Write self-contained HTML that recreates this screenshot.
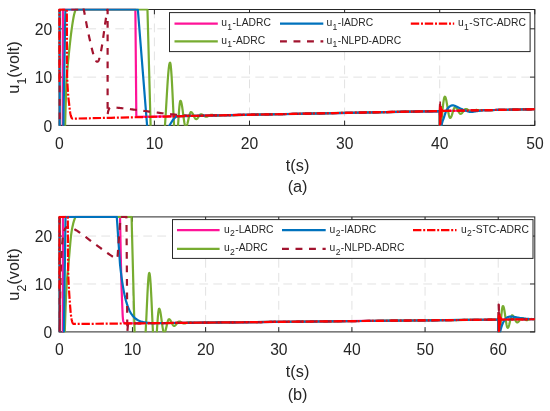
<!DOCTYPE html>
<html><head><meta charset="utf-8"><title>Control signals</title>
<style>html,body{margin:0;padding:0;background:#fff}svg{display:block}</style></head>
<body>
<svg width="550" height="411" viewBox="0 0 550 411" font-family='"Liberation Sans", Arial, Helvetica, sans-serif' font-size="15.7px" fill="#262626">
<rect width="550" height="411" fill="#fff"/>
<clipPath id="ca"><rect x="58.30" y="8.40" width="477.50" height="117.40"/></clipPath>
<line x1="154.40" y1="9.50" x2="154.40" y2="125.40" stroke="#000" stroke-opacity="0.17" stroke-width="0.7" stroke-dasharray="8.8 5.2"/>
<line x1="249.50" y1="9.50" x2="249.50" y2="125.40" stroke="#000" stroke-opacity="0.17" stroke-width="0.7" stroke-dasharray="8.8 5.2"/>
<line x1="344.60" y1="9.50" x2="344.60" y2="125.40" stroke="#000" stroke-opacity="0.17" stroke-width="0.7" stroke-dasharray="8.8 5.2"/>
<line x1="439.70" y1="9.50" x2="439.70" y2="125.40" stroke="#000" stroke-opacity="0.17" stroke-width="0.7" stroke-dasharray="8.8 5.2"/>
<line x1="59.30" y1="77.11" x2="534.80" y2="77.11" stroke="#000" stroke-opacity="0.17" stroke-width="0.7" stroke-dasharray="8.8 5.2"/>
<line x1="59.30" y1="28.82" x2="534.80" y2="28.82" stroke="#000" stroke-opacity="0.17" stroke-width="0.7" stroke-dasharray="8.8 5.2"/>
<rect x="59.30" y="9.50" width="475.50" height="115.90" fill="none" stroke="#262626" stroke-width="1"/>
<path d="M59.30 125.40v-4.80M59.30 9.50v4.80" stroke="#262626" stroke-width="1" fill="none"/>
<path d="M154.40 125.40v-4.80M154.40 9.50v4.80" stroke="#262626" stroke-width="1" fill="none"/>
<path d="M249.50 125.40v-4.80M249.50 9.50v4.80" stroke="#262626" stroke-width="1" fill="none"/>
<path d="M344.60 125.40v-4.80M344.60 9.50v4.80" stroke="#262626" stroke-width="1" fill="none"/>
<path d="M439.70 125.40v-4.80M439.70 9.50v4.80" stroke="#262626" stroke-width="1" fill="none"/>
<path d="M534.80 125.40v-4.80M534.80 9.50v4.80" stroke="#262626" stroke-width="1" fill="none"/>
<path d="M59.30 125.40h4.80M534.80 125.40h-4.80" stroke="#262626" stroke-width="1" fill="none"/>
<path d="M59.30 77.11h4.80M534.80 77.11h-4.80" stroke="#262626" stroke-width="1" fill="none"/>
<path d="M59.30 28.82h4.80M534.80 28.82h-4.80" stroke="#262626" stroke-width="1" fill="none"/>
<g clip-path="url(#ca)">
<path d="M59.59 9.50L59.59 139.89L62.72 139.89L62.91 9.50L135.38 9.50L136.33 116.47L136.81 116.90L151.95 116.61L167.10 116.32L182.24 116.03L197.39 115.73L212.53 115.44L227.67 115.15L242.82 114.86L257.96 114.56L273.11 114.27L288.25 113.98L303.40 113.69L318.54 113.40L333.69 113.10L348.83 112.81L363.98 112.52L379.12 112.23L394.27 111.93L409.41 111.64L424.56 111.35L439.70 111.06L439.70 114.78L440.46 109.46L441.60 111.02L442.55 111.00L447.17 110.91L451.78 110.82L456.39 110.74L461.00 110.65L465.61 110.56L470.23 110.47L474.84 110.38L479.45 110.29L484.06 110.20L488.68 110.11L493.29 110.02L497.90 109.93L502.51 109.85L507.13 109.76L511.74 109.67L516.35 109.58L520.96 109.49L525.58 109.40L530.19 109.31L534.80 109.22" fill="none" stroke="#FF1398" stroke-width="2.2" stroke-linejoin="round"/>
<path d="M59.59 9.50L59.59 139.89L64.82 139.89L64.83 139.23L64.84 138.48L64.85 137.62L64.87 136.67L64.89 135.61L64.90 134.45L64.93 133.20L64.95 131.84L64.98 130.38L65.02 128.82L65.06 127.16L65.10 125.40L65.15 123.46L65.21 121.29L65.28 118.93L65.35 116.42L65.43 113.82L65.51 111.15L65.58 108.48L65.66 105.83L65.74 103.26L65.82 100.81L65.89 98.51L65.96 96.42L66.02 94.53L66.06 92.78L66.11 91.15L66.15 89.61L66.19 88.15L66.22 86.74L66.27 85.35L66.32 83.98L66.37 82.58L66.44 81.15L66.52 79.65L66.62 78.07L66.74 76.44L66.86 74.79L67.00 73.12L67.14 71.44L67.29 69.74L67.45 68.02L67.62 66.29L67.80 64.53L67.97 62.76L68.15 60.97L68.34 59.15L68.52 57.31L68.72 55.42L68.92 53.45L69.12 51.43L69.33 49.37L69.55 47.29L69.77 45.21L70.00 43.14L70.22 41.10L70.44 39.12L70.66 37.20L70.88 35.37L71.09 33.65L71.30 32.00L71.52 30.39L71.73 28.83L71.94 27.31L72.15 25.85L72.36 24.44L72.57 23.08L72.78 21.79L72.98 20.55L73.18 19.38L73.38 18.27L73.56 17.23L73.75 16.25L73.95 15.35L74.14 14.50L74.34 13.72L74.53 13.00L74.72 12.34L74.90 11.73L75.06 11.18L75.21 10.68L75.35 10.24L75.47 9.85L75.56 9.50L147.46 9.50L150.60 125.40L151.07 139.89L162.96 139.89L163.25 139.56L163.55 138.57L163.84 136.95L164.13 134.71L164.43 131.90L164.72 128.57L165.01 124.77L165.30 120.57L165.60 116.04L165.89 111.25L166.18 106.30L166.48 101.25L166.77 96.21L167.06 91.26L167.36 86.47L167.65 81.94L167.94 77.74L168.24 73.94L168.53 70.60L168.82 67.80L169.12 65.56L169.41 63.94L169.70 62.95L170.00 62.62L170.25 62.97L170.50 64.02L170.75 65.75L170.99 68.12L171.24 71.10L171.49 74.64L171.74 78.68L171.99 83.14L172.24 87.96L172.49 93.04L172.74 98.31L172.99 103.67L173.24 109.03L173.49 114.29L173.74 119.38L173.99 124.19L174.24 128.66L174.49 132.69L174.74 136.23L174.99 139.22L175.24 139.89L175.49 139.89L175.74 139.89L175.99 139.89L176.17 139.89L176.36 139.89L176.55 139.89L176.73 139.89L176.92 139.89L177.11 138.28L177.29 136.12L177.48 133.73L177.66 131.15L177.85 128.43L178.04 125.61L178.22 122.74L178.41 119.88L178.60 117.06L178.78 114.34L178.97 111.76L179.15 109.37L179.34 107.21L179.53 105.31L179.71 103.72L179.90 102.44L180.08 101.52L180.27 100.96L180.46 100.77L180.68 100.88L180.90 101.22L181.12 101.76L181.34 102.52L181.57 103.47L181.79 104.59L182.01 105.87L182.23 107.29L182.45 108.82L182.68 110.44L182.90 112.11L183.12 113.81L183.34 115.51L183.56 117.18L183.79 118.80L184.01 120.33L184.23 121.75L184.45 123.03L184.67 124.15L184.90 125.10L185.12 125.86L185.34 126.40L185.56 126.74L185.78 126.85L186.00 126.79L186.22 126.60L186.44 126.29L186.65 125.86L186.87 125.33L187.09 124.69L187.31 123.97L187.53 123.17L187.74 122.30L187.96 121.39L188.18 120.45L188.40 119.48L188.62 118.52L188.83 117.58L189.05 116.67L189.27 115.80L189.49 115.00L189.71 114.28L189.92 113.64L190.14 113.11L190.36 112.68L190.58 112.37L190.80 112.18L191.01 112.12L191.23 112.15L191.45 112.24L191.67 112.39L191.89 112.59L192.10 112.84L192.32 113.15L192.54 113.49L192.76 113.87L192.97 114.28L193.19 114.71L193.41 115.16L193.63 115.62L193.85 116.08L194.06 116.53L194.28 116.96L194.50 117.37L194.72 117.75L194.94 118.10L195.15 118.40L195.37 118.65L195.59 118.86L195.81 119.00L196.03 119.09L196.24 119.12L196.44 119.10L196.64 119.04L196.84 118.94L197.04 118.80L197.23 118.62L197.43 118.41L197.63 118.18L197.83 117.91L198.03 117.63L198.23 117.33L198.42 117.02L198.62 116.71L198.82 116.39L199.02 116.08L199.22 115.78L199.41 115.50L199.61 115.24L199.81 115.00L200.01 114.79L200.21 114.62L200.40 114.48L200.60 114.38L200.80 114.31L201.00 114.29L201.22 114.30L201.43 114.33L201.65 114.38L201.87 114.45L202.09 114.54L202.31 114.65L202.52 114.77L202.74 114.90L202.96 115.04L203.18 115.19L203.40 115.34L203.61 115.50L203.83 115.66L204.05 115.81L204.27 115.96L204.49 116.10L204.70 116.24L204.92 116.35L205.14 116.46L205.36 116.55L205.58 116.62L205.79 116.67L206.01 116.70L206.23 116.71L206.45 116.70L206.67 116.67L206.88 116.63L207.10 116.58L207.32 116.51L207.54 116.42L207.76 116.33L207.97 116.22L208.19 116.11L208.41 115.99L208.63 115.87L208.84 115.74L209.06 115.62L209.28 115.49L209.50 115.37L209.72 115.26L209.93 115.15L210.15 115.06L210.37 114.98L210.59 114.91L210.81 114.85L211.02 114.81L211.24 114.78L211.46 114.78L211.68 114.78L211.90 114.79L212.11 114.81L212.33 114.84L212.55 114.88L212.77 114.92L212.99 114.96L213.20 115.02L213.42 115.07L213.64 115.13L213.86 115.20L214.08 115.26L214.29 115.32L214.51 115.38L214.73 115.44L214.95 115.50L215.16 115.55L215.38 115.60L215.60 115.64L215.82 115.68L216.04 115.70L216.25 115.73L216.47 115.74L216.69 115.74L216.91 115.74L217.13 115.73L217.34 115.72L217.56 115.71L217.78 115.69L218.00 115.67L218.22 115.65L218.43 115.62L218.65 115.59L218.87 115.56L219.09 115.53L219.31 115.50L219.52 115.47L219.74 115.44L219.96 115.41L220.18 115.38L220.40 115.35L220.61 115.33L220.83 115.31L221.05 115.29L221.27 115.28L221.49 115.27L221.70 115.26L221.92 115.26L222.87 115.24L233.71 115.03L244.55 114.82L255.40 114.61L266.24 114.40L277.08 114.20L287.92 113.99L298.76 113.78L309.60 113.57L320.44 113.36L331.29 113.15L342.13 112.94L352.97 112.73L363.81 112.52L374.65 112.31L385.49 112.10L396.33 111.89L407.18 111.68L418.02 111.48L428.86 111.27L439.70 111.06L439.70 139.89L438.75 139.89L439.00 139.70L439.26 139.15L439.51 138.24L439.76 136.99L440.02 135.42L440.27 133.56L440.52 131.43L440.78 129.08L441.03 126.55L441.28 123.87L441.54 121.10L441.79 118.28L442.05 115.46L442.30 112.68L442.55 110.01L442.81 107.47L443.06 105.12L443.31 103.00L443.57 101.13L443.82 99.56L444.07 98.31L444.33 97.40L444.58 96.85L444.84 96.67L445.06 96.76L445.28 97.03L445.50 97.48L445.72 98.09L445.94 98.86L446.17 99.78L446.39 100.82L446.61 101.98L446.83 103.22L447.05 104.54L447.28 105.90L447.50 107.29L447.72 108.68L447.94 110.04L448.16 111.36L448.39 112.60L448.61 113.76L448.83 114.80L449.05 115.72L449.27 116.49L449.50 117.11L449.72 117.55L449.94 117.82L450.16 117.91L450.37 117.87L450.58 117.73L450.79 117.50L451.00 117.19L451.21 116.79L451.42 116.32L451.63 115.79L451.84 115.20L452.05 114.56L452.26 113.89L452.47 113.19L452.68 112.48L452.89 111.77L453.10 111.08L453.31 110.40L453.52 109.77L453.73 109.17L453.94 108.64L454.15 108.17L454.36 107.78L454.57 107.46L454.78 107.23L454.99 107.10L455.20 107.05L455.43 107.08L455.65 107.16L455.88 107.31L456.10 107.50L456.33 107.75L456.56 108.04L456.78 108.37L457.01 108.74L457.23 109.14L457.46 109.55L457.69 109.99L457.91 110.43L458.14 110.87L458.36 111.30L458.59 111.72L458.82 112.12L459.04 112.49L459.27 112.82L459.49 113.11L459.72 113.36L459.94 113.55L460.17 113.69L460.40 113.78L460.62 113.81L460.84 113.79L461.06 113.73L461.28 113.63L461.49 113.49L461.71 113.31L461.93 113.10L462.15 112.87L462.37 112.60L462.58 112.32L462.80 112.02L463.02 111.71L463.24 111.40L463.46 111.08L463.67 110.77L463.89 110.47L464.11 110.19L464.33 109.93L464.54 109.69L464.76 109.48L464.98 109.30L465.20 109.16L465.42 109.06L465.63 109.00L465.85 108.98L466.07 108.99L466.29 109.02L466.51 109.07L466.72 109.14L466.94 109.23L467.16 109.33L467.38 109.45L467.60 109.58L467.81 109.73L468.03 109.88L468.25 110.03L468.47 110.19L468.69 110.35L468.90 110.50L469.12 110.65L469.34 110.79L469.56 110.92L469.78 111.04L469.99 111.15L470.21 111.23L470.43 111.30L470.65 111.35L470.87 111.39L471.08 111.40L471.30 111.39L471.52 111.37L471.74 111.34L471.95 111.30L472.17 111.25L472.39 111.18L472.61 111.11L472.83 111.03L473.04 110.95L473.26 110.86L473.48 110.77L473.70 110.67L473.92 110.58L474.13 110.48L474.35 110.39L474.57 110.31L474.79 110.23L475.01 110.16L475.22 110.10L475.44 110.04L475.66 110.00L475.88 109.97L476.10 109.95L476.31 109.95L476.53 109.95L476.75 109.95L476.97 109.97L477.19 109.98L477.40 110.00L477.62 110.02L477.84 110.04L478.06 110.07L478.27 110.10L478.49 110.13L478.71 110.16L478.93 110.19L479.15 110.22L479.36 110.25L479.58 110.28L479.80 110.31L480.02 110.34L480.24 110.36L480.45 110.38L480.67 110.40L480.89 110.41L481.11 110.42L481.33 110.43L481.54 110.43L482.49 110.23L485.11 110.18L487.73 110.13L490.34 110.08L492.96 110.03L495.57 109.98L498.19 109.93L500.80 109.88L503.42 109.83L506.03 109.78L508.65 109.73L511.26 109.68L513.88 109.63L516.49 109.58L519.11 109.53L521.72 109.47L524.34 109.42L526.95 109.37L529.57 109.32L532.18 109.27L534.80 109.22" fill="none" stroke="#77AC30" stroke-width="2.2" stroke-linejoin="round"/>
<path d="M59.59 9.50L59.59 139.89L63.10 139.89L65.39 9.50L137.85 9.50L147.08 125.40L148.22 139.89L159.15 136.02L160.11 136.02L160.86 135.94L161.61 135.68L162.36 135.27L163.12 134.69L163.87 133.96L164.62 133.10L165.38 132.12L166.13 131.04L166.88 129.87L167.63 128.63L168.39 127.35L169.14 126.05L169.89 124.75L170.65 123.47L171.40 122.24L172.15 121.07L172.90 119.98L173.66 119.00L174.41 118.14L175.16 117.42L175.92 116.84L176.67 116.42L177.42 116.17L178.17 116.08L179.13 116.09L192.15 115.83L205.18 115.58L218.21 115.33L231.24 115.08L244.27 114.83L257.30 114.58L270.33 114.33L283.36 114.07L296.38 113.82L309.41 113.57L322.44 113.32L335.47 113.07L348.50 112.82L361.53 112.57L374.56 112.31L387.59 112.06L400.61 111.81L413.64 111.56L426.67 111.31L439.70 111.06L439.70 139.89L440.65 139.89L440.65 139.89L440.69 139.16L440.74 138.23L440.79 137.12L440.85 135.87L440.92 134.52L440.99 133.11L441.07 131.67L441.16 130.24L441.26 128.87L441.36 127.57L441.48 126.41L441.60 125.40L441.74 124.53L441.89 123.76L442.05 123.05L442.22 122.41L442.40 121.81L442.58 121.26L442.77 120.72L442.97 120.20L443.17 119.67L443.38 119.13L443.58 118.57L443.79 117.96L444.00 117.32L444.21 116.65L444.43 115.97L444.65 115.28L444.87 114.59L445.10 113.90L445.34 113.22L445.57 112.57L445.81 111.94L446.05 111.34L446.30 110.79L446.55 110.28L446.80 109.82L447.06 109.39L447.32 109.00L447.59 108.63L447.86 108.28L448.13 107.97L448.40 107.67L448.68 107.40L448.95 107.14L449.23 106.90L449.51 106.68L449.78 106.47L450.05 106.27L450.32 106.10L450.58 105.94L450.84 105.80L451.11 105.67L451.37 105.57L451.64 105.49L451.92 105.42L452.20 105.38L452.49 105.35L452.79 105.34L453.11 105.36L453.43 105.40L453.76 105.47L454.10 105.56L454.44 105.68L454.79 105.81L455.14 105.97L455.51 106.13L455.88 106.31L456.27 106.49L456.66 106.68L457.07 106.86L457.48 107.05L457.91 107.24L458.36 107.45L458.81 107.67L459.27 107.90L459.75 108.13L460.23 108.37L460.72 108.62L461.22 108.86L461.73 109.09L462.24 109.32L462.76 109.55L463.28 109.75L463.82 109.96L464.37 110.17L464.93 110.39L465.50 110.61L466.07 110.82L466.65 111.03L467.24 111.22L467.82 111.40L468.41 111.56L468.99 111.70L469.56 111.80L470.13 111.88L470.69 111.92L471.25 111.93L471.81 111.90L472.37 111.86L472.92 111.79L473.47 111.71L474.02 111.62L474.58 111.52L475.13 111.42L475.68 111.32L476.23 111.23L476.79 111.15L477.36 111.08L477.98 111.00L478.61 110.91L479.25 110.81L479.90 110.72L480.53 110.63L481.14 110.53L481.72 110.45L482.25 110.37L482.72 110.30L483.12 110.24L483.45 110.19L484.40 110.19L486.92 110.15L489.44 110.10L491.96 110.05L494.48 110.00L497.00 109.95L499.52 109.90L502.04 109.85L504.56 109.81L507.08 109.76L509.60 109.71L512.12 109.66L514.64 109.61L517.16 109.56L519.68 109.51L522.20 109.47L524.72 109.42L527.24 109.37L529.76 109.32L532.28 109.27L534.80 109.22" fill="none" stroke="#0072BD" stroke-width="2.2" stroke-linejoin="round"/>
<path d="M59.59 127.81L59.59 9.50L83.07 9.50L83.10 9.43L83.11 9.25L83.11 9.00L83.12 8.71L83.13 8.42L83.15 8.17L83.19 7.99L83.24 7.93L83.32 8.01L83.42 8.27L83.56 8.76L83.74 9.50L83.96 10.53L84.22 11.82L84.51 13.33L84.83 15.03L85.17 16.87L85.53 18.83L85.91 20.85L86.29 22.91L86.68 24.97L87.07 26.99L87.46 28.93L87.83 30.75L88.21 32.54L88.61 34.38L89.02 36.27L89.44 38.17L89.86 40.07L90.28 41.95L90.70 43.78L91.12 45.54L91.51 47.22L91.89 48.79L92.25 50.22L92.58 51.51L92.89 52.66L93.18 53.68L93.45 54.60L93.71 55.41L93.96 56.14L94.19 56.80L94.41 57.38L94.63 57.92L94.84 58.41L95.04 58.86L95.24 59.30L95.44 59.72L95.63 60.12L95.81 60.46L95.98 60.76L96.14 61.01L96.30 61.22L96.45 61.38L96.60 61.51L96.74 61.60L96.89 61.66L97.03 61.69L97.18 61.68L97.34 61.66L97.50 61.62L97.65 61.57L97.79 61.52L97.94 61.44L98.08 61.33L98.23 61.17L98.38 60.96L98.54 60.69L98.70 60.34L98.87 59.91L99.05 59.39L99.24 58.76L99.45 58.02L99.66 57.20L99.89 56.28L100.12 55.29L100.36 54.22L100.61 53.08L100.86 51.89L101.11 50.64L101.36 49.34L101.61 48.00L101.85 46.63L102.09 45.24L102.33 43.77L102.58 42.19L102.82 40.53L103.06 38.80L103.31 37.02L103.55 35.22L103.79 33.40L104.03 31.61L104.27 29.84L104.50 28.13L104.73 26.50L104.95 24.95L105.17 23.45L105.40 21.92L105.63 20.39L105.86 18.87L106.09 17.39L106.32 15.96L106.53 14.60L106.73 13.33L106.91 12.16L107.07 11.13L107.21 10.23L107.33 9.50L107.61 9.50L107.61 114.78L107.64 114.59L107.67 114.34L107.71 114.06L107.76 113.74L107.80 113.39L107.85 113.03L107.91 112.65L107.97 112.27L108.04 111.90L108.11 111.55L108.19 111.21L108.28 110.91L108.36 110.63L108.45 110.35L108.55 110.07L108.64 109.79L108.74 109.53L108.85 109.27L108.97 109.02L109.09 108.78L109.23 108.56L109.37 108.36L109.53 108.18L109.70 108.02L109.88 107.87L110.04 107.75L110.20 107.65L110.37 107.56L110.55 107.49L110.74 107.43L110.96 107.38L111.20 107.34L111.47 107.32L111.79 107.30L112.15 107.29L112.56 107.29L113.00 107.30L113.45 107.31L113.92 107.34L114.42 107.38L114.96 107.43L115.53 107.49L116.15 107.55L116.82 107.63L117.55 107.72L118.35 107.81L119.22 107.91L120.16 108.02L121.21 108.13L122.35 108.26L123.58 108.41L124.88 108.56L126.25 108.72L127.65 108.89L129.09 109.06L130.55 109.24L132.02 109.42L133.48 109.60L134.92 109.77L136.33 109.95L137.72 110.12L139.12 110.29L140.52 110.47L141.93 110.65L143.35 110.84L144.77 111.02L146.20 111.20L147.64 111.39L149.08 111.57L150.53 111.75L151.99 111.94L153.45 112.12L154.91 112.30L156.37 112.49L157.83 112.68L159.30 112.87L160.77 113.06L162.25 113.25L163.74 113.44L165.25 113.62L166.78 113.80L168.33 113.97L169.91 114.14L171.52 114.29L173.17 114.44L174.86 114.60L176.59 114.75L178.35 114.89L180.13 115.04L181.92 115.17L183.71 115.30L185.50 115.41L187.28 115.52L189.03 115.61L190.75 115.68L192.44 115.74L194.15 115.78L195.94 115.79L197.77 115.78L199.63 115.76L201.46 115.73L203.26 115.69L204.98 115.64L206.60 115.59L208.09 115.54L209.41 115.50L210.55 115.47L211.46 115.45L213.36 115.42L224.68 115.21L236.00 114.99L247.31 114.77L258.63 114.55L269.95 114.33L281.26 114.11L292.58 113.90L303.90 113.68L315.21 113.46L326.53 113.24L337.85 113.02L349.16 112.80L360.48 112.59L371.80 112.37L383.12 112.15L394.43 111.93L405.75 111.71L417.07 111.49L428.38 111.28L439.70 111.06L440.18 101.50L440.84 113.81L441.60 111.02L442.55 111.00L447.17 110.91L451.78 110.82L456.39 110.74L461.00 110.65L465.61 110.56L470.23 110.47L474.84 110.38L479.45 110.29L484.06 110.20L488.68 110.11L493.29 110.02L497.90 109.93L502.51 109.85L507.13 109.76L511.74 109.67L516.35 109.58L520.96 109.49L525.58 109.40L530.19 109.31L534.80 109.22" fill="none" stroke="#A2142F" stroke-width="2.2" stroke-linejoin="round" stroke-dasharray="6.9 6.6" stroke-dashoffset="5"/>
<path d="M59.30 81.94L59.30 9.50L66.81 9.50L66.81 9.50L66.82 11.92L66.83 15.08L66.85 18.83L66.86 23.06L66.88 27.62L66.90 32.38L66.91 37.21L66.93 41.98L66.95 46.56L66.97 50.81L66.99 54.59L67.00 57.79L67.02 60.47L67.03 62.84L67.03 64.92L67.04 66.77L67.04 68.42L67.05 69.92L67.06 71.32L67.07 72.64L67.09 73.93L67.12 75.24L67.15 76.61L67.19 78.07L67.25 79.60L67.31 81.12L67.38 82.62L67.45 84.10L67.54 85.56L67.62 86.98L67.71 88.36L67.80 89.70L67.89 90.99L67.98 92.22L68.06 93.39L68.14 94.49L68.22 95.51L68.30 96.44L68.38 97.30L68.45 98.09L68.53 98.83L68.61 99.53L68.69 100.21L68.76 100.88L68.84 101.54L68.93 102.22L69.01 102.93L69.10 103.67L69.18 104.45L69.27 105.25L69.36 106.06L69.45 106.88L69.54 107.70L69.64 108.51L69.73 109.31L69.83 110.09L69.93 110.84L70.03 111.55L70.13 112.22L70.24 112.84L70.34 113.42L70.45 113.98L70.56 114.50L70.67 115.00L70.79 115.47L70.90 115.91L71.02 116.32L71.14 116.71L71.27 117.06L71.39 117.37L71.53 117.66L71.66 117.91L71.81 118.12L71.97 118.28L72.15 118.40L72.33 118.48L72.52 118.52L72.70 118.55L72.88 118.55L73.05 118.54L73.21 118.53L73.35 118.53L73.47 118.53L73.56 118.54L74.52 118.62L92.78 118.20L111.03 117.78L129.29 117.37L147.55 116.95L165.81 116.53L184.07 116.11L202.33 115.70L220.59 115.29L238.85 114.93L257.11 114.58L275.37 114.23L293.63 113.88L311.89 113.52L330.14 113.17L348.40 112.82L366.66 112.47L384.92 112.11L403.18 111.76L421.44 111.41L439.70 111.06" fill="none" stroke="#FF0000" stroke-width="2.2" stroke-linejoin="round" stroke-dasharray="8.4 1.8 2 1.8"/>
<path d="M439.70 111.06L439.70 125.40L440.08 104.63L440.56 123.95L440.94 106.57L441.41 116.71L441.98 109.46L442.74 111.00" fill="none" stroke="#FF0000" stroke-width="1.8" stroke-linejoin="round"/>
<path d="M442.55 111.00L447.17 110.91L451.78 110.82L456.39 110.74L461.00 110.65L465.61 110.56L470.23 110.47L474.84 110.38L479.45 110.29L484.06 110.20L488.68 110.11L493.29 110.02L497.90 109.93L502.51 109.85L507.13 109.76L511.74 109.67L516.35 109.58L520.96 109.49L525.58 109.40L530.19 109.31L534.80 109.22" fill="none" stroke="#FF0000" stroke-width="2.2" stroke-linejoin="round" stroke-dasharray="8.4 1.8 2 1.8"/>
<path d="M440.18 107.05L440.18 101.50" fill="none" stroke="#A2142F" stroke-width="1.6" stroke-linejoin="round"/>
</g>
<text x="59.40" y="148.90" text-anchor="middle">0</text>
<text x="154.50" y="148.90" text-anchor="middle">10</text>
<text x="249.60" y="148.90" text-anchor="middle">20</text>
<text x="344.70" y="148.90" text-anchor="middle">30</text>
<text x="439.80" y="148.90" text-anchor="middle">40</text>
<text x="534.90" y="148.90" text-anchor="middle">50</text>
<text x="52.30" y="131.50" text-anchor="end">0</text>
<text x="52.30" y="83.21" text-anchor="end">10</text>
<text x="52.30" y="34.92" text-anchor="end">20</text>
<rect x="169.50" y="12.60" width="360.60" height="39.00" fill="#fff" stroke="#262626" stroke-width="1"/>
<line x1="174.50" y1="23.60" x2="217.80" y2="23.60" stroke="#FF1398" stroke-width="2.2"/>
<text x="221.30" y="25.90" font-size="10.3px">u<tspan font-size="8.6px" dx="0.3" dy="3.8">1</tspan><tspan dy="-3.8" dx="0.4">-LADRC</tspan></text>
<line x1="174.50" y1="41.30" x2="217.80" y2="41.30" stroke="#77AC30" stroke-width="2.2"/>
<text x="221.30" y="43.60" font-size="10.3px">u<tspan font-size="8.6px" dx="0.3" dy="3.8">1</tspan><tspan dy="-3.8" dx="0.4">-ADRC</tspan></text>
<line x1="280.00" y1="23.60" x2="323.30" y2="23.60" stroke="#0072BD" stroke-width="2.2"/>
<text x="326.50" y="25.90" font-size="10.3px">u<tspan font-size="8.6px" dx="0.3" dy="3.8">1</tspan><tspan dy="-3.8" dx="0.4">-IADRC</tspan></text>
<line x1="280.00" y1="41.30" x2="323.30" y2="41.30" stroke="#A2142F" stroke-width="2.2" stroke-dasharray="6.9 6.6"/>
<text x="326.50" y="43.60" font-size="10.3px">u<tspan font-size="8.6px" dx="0.3" dy="3.8">1</tspan><tspan dy="-3.8" dx="0.4">-NLPD-ADRC</tspan></text>
<line x1="410.80" y1="23.60" x2="454.20" y2="23.60" stroke="#FF0000" stroke-width="2.2" stroke-dasharray="8.4 1.8 2 1.8"/>
<text x="458.00" y="25.90" font-size="10.3px">u<tspan font-size="8.6px" dx="0.3" dy="3.8">1</tspan><tspan dy="-3.8" dx="0.4">-STC-ADRC</tspan></text>
<text x="297.6" y="171" text-anchor="middle" font-size="16.3px">t(s)</text>
<text x="297.6" y="192" text-anchor="middle" font-size="16.3px">(a)</text>
<text transform="translate(19.2 67.6) rotate(-90)" text-anchor="middle" font-size="16.3px">u<tspan font-size="12.3px" dy="6.5" dx="0.2">1</tspan><tspan dy="-6.5">(volt)</tspan></text>
<clipPath id="cb"><rect x="58.30" y="215.80" width="477.50" height="116.50"/></clipPath>
<line x1="132.45" y1="216.90" x2="132.45" y2="331.90" stroke="#000" stroke-opacity="0.17" stroke-width="0.7" stroke-dasharray="8.8 5.2"/>
<line x1="205.61" y1="216.90" x2="205.61" y2="331.90" stroke="#000" stroke-opacity="0.17" stroke-width="0.7" stroke-dasharray="8.8 5.2"/>
<line x1="278.76" y1="216.90" x2="278.76" y2="331.90" stroke="#000" stroke-opacity="0.17" stroke-width="0.7" stroke-dasharray="8.8 5.2"/>
<line x1="351.92" y1="216.90" x2="351.92" y2="331.90" stroke="#000" stroke-opacity="0.17" stroke-width="0.7" stroke-dasharray="8.8 5.2"/>
<line x1="425.07" y1="216.90" x2="425.07" y2="331.90" stroke="#000" stroke-opacity="0.17" stroke-width="0.7" stroke-dasharray="8.8 5.2"/>
<line x1="498.22" y1="216.90" x2="498.22" y2="331.90" stroke="#000" stroke-opacity="0.17" stroke-width="0.7" stroke-dasharray="8.8 5.2"/>
<line x1="59.30" y1="283.98" x2="534.80" y2="283.98" stroke="#000" stroke-opacity="0.17" stroke-width="0.7" stroke-dasharray="8.8 5.2"/>
<line x1="59.30" y1="236.07" x2="534.80" y2="236.07" stroke="#000" stroke-opacity="0.17" stroke-width="0.7" stroke-dasharray="8.8 5.2"/>
<rect x="59.30" y="216.90" width="475.50" height="115.00" fill="none" stroke="#262626" stroke-width="1"/>
<path d="M59.30 331.90v-4.80M59.30 216.90v4.80" stroke="#262626" stroke-width="1" fill="none"/>
<path d="M132.45 331.90v-4.80M132.45 216.90v4.80" stroke="#262626" stroke-width="1" fill="none"/>
<path d="M205.61 331.90v-4.80M205.61 216.90v4.80" stroke="#262626" stroke-width="1" fill="none"/>
<path d="M278.76 331.90v-4.80M278.76 216.90v4.80" stroke="#262626" stroke-width="1" fill="none"/>
<path d="M351.92 331.90v-4.80M351.92 216.90v4.80" stroke="#262626" stroke-width="1" fill="none"/>
<path d="M425.07 331.90v-4.80M425.07 216.90v4.80" stroke="#262626" stroke-width="1" fill="none"/>
<path d="M498.22 331.90v-4.80M498.22 216.90v4.80" stroke="#262626" stroke-width="1" fill="none"/>
<path d="M59.30 331.90h4.80M534.80 331.90h-4.80" stroke="#262626" stroke-width="1" fill="none"/>
<path d="M59.30 283.98h4.80M534.80 283.98h-4.80" stroke="#262626" stroke-width="1" fill="none"/>
<path d="M59.30 236.07h4.80M534.80 236.07h-4.80" stroke="#262626" stroke-width="1" fill="none"/>
<g clip-path="url(#cb)">
<path d="M59.52 216.90L59.52 346.27L62.81 346.27L62.96 216.90L120.02 216.90L120.07 219.28L120.13 222.37L120.20 226.05L120.28 230.19L120.37 234.66L120.46 239.33L120.56 244.07L120.65 248.76L120.74 253.25L120.82 257.44L120.90 261.17L120.97 264.34L121.03 266.99L121.08 269.30L121.12 271.32L121.16 273.10L121.19 274.70L121.23 276.17L121.26 277.55L121.30 278.89L121.34 280.25L121.38 281.68L121.43 283.23L121.48 284.94L121.54 286.82L121.61 288.79L121.68 290.83L121.76 292.91L121.84 295.01L121.92 297.10L122.00 299.15L122.08 301.14L122.16 303.05L122.23 304.83L122.30 306.47L122.36 307.94L122.41 309.25L122.46 310.44L122.51 311.51L122.55 312.48L122.58 313.35L122.62 314.16L122.66 314.89L122.69 315.57L122.73 316.21L122.77 316.82L122.82 317.42L122.87 318.00L122.92 318.56L122.98 319.06L123.03 319.51L123.08 319.91L123.13 320.27L123.19 320.59L123.25 320.88L123.32 321.15L123.40 321.39L123.48 321.63L123.57 321.85L123.68 322.08L123.80 322.29L123.94 322.47L124.10 322.63L124.28 322.76L124.46 322.88L124.64 322.98L124.82 323.06L124.99 323.14L125.15 323.20L125.29 323.26L125.41 323.32L125.50 323.37L125.87 323.45L144.49 323.26L163.11 323.06L181.72 322.87L200.34 322.68L218.96 322.49L237.58 322.29L256.19 322.10L274.81 321.91L293.43 321.71L312.05 321.52L330.66 321.33L349.28 321.14L367.90 320.94L386.52 320.75L405.13 320.56L423.75 320.37L442.37 320.17L460.99 319.98L479.61 319.79L498.22 319.59L498.22 322.32L498.95 317.52L500.42 319.57L501.15 319.56L502.83 319.55L504.51 319.53L506.20 319.51L507.88 319.50L509.56 319.48L511.24 319.46L512.93 319.44L514.61 319.43L516.29 319.41L517.97 319.39L519.66 319.37L521.34 319.36L523.02 319.34L524.70 319.32L526.39 319.30L528.07 319.29L529.75 319.27L531.43 319.25L533.12 319.23L534.80 319.22" fill="none" stroke="#FF1398" stroke-width="2.2" stroke-linejoin="round"/>
<path d="M59.52 216.90L59.52 346.27L64.57 346.27L64.57 345.63L64.58 344.91L64.59 344.09L64.59 343.17L64.60 342.15L64.61 341.03L64.62 339.81L64.64 338.47L64.66 337.01L64.70 335.43L64.74 333.73L64.79 331.90L64.85 329.86L64.92 327.56L65.00 325.05L65.09 322.37L65.18 319.58L65.28 316.72L65.38 313.83L65.49 310.98L65.59 308.19L65.69 305.53L65.79 303.03L65.88 300.75L65.97 298.65L66.06 296.66L66.15 294.76L66.23 292.95L66.32 291.20L66.41 289.52L66.49 287.90L66.58 286.31L66.68 284.75L66.77 283.21L66.87 281.68L66.98 280.15L67.09 278.68L67.20 277.32L67.31 276.04L67.43 274.83L67.54 273.64L67.66 272.45L67.79 271.24L67.92 269.98L68.06 268.64L68.20 267.19L68.35 265.60L68.52 263.86L68.69 261.90L68.88 259.71L69.08 257.36L69.29 254.88L69.50 252.32L69.72 249.72L69.94 247.14L70.16 244.62L70.38 242.21L70.60 239.94L70.80 237.88L71.00 236.07L71.20 234.47L71.39 233.04L71.57 231.74L71.76 230.57L71.94 229.50L72.12 228.52L72.29 227.62L72.47 226.77L72.65 225.96L72.83 225.17L73.01 224.40L73.20 223.61L73.39 222.83L73.60 222.08L73.81 221.37L74.03 220.70L74.25 220.07L74.47 219.48L74.68 218.93L74.88 218.43L75.06 217.97L75.22 217.56L75.36 217.21L75.47 216.90L131.58 216.90L134.58 331.90L134.94 346.27L139.77 343.40L139.96 343.40L140.15 343.40L140.34 343.40L140.53 343.40L140.71 343.40L140.90 343.40L141.09 343.40L141.28 343.40L141.47 343.40L141.66 343.40L141.85 343.40L142.04 343.40L142.23 343.40L142.41 343.40L142.60 343.40L142.79 343.40L142.98 343.40L143.17 343.40L143.36 343.40L143.55 343.40L143.74 343.40L143.93 343.40L144.12 343.40L144.30 343.40L144.51 343.10L144.72 342.20L144.93 340.72L145.13 338.68L145.34 336.12L145.55 333.08L145.76 329.62L145.96 325.79L146.17 321.66L146.38 317.30L146.58 312.78L146.79 308.18L147.00 303.58L147.21 299.07L147.41 294.70L147.62 290.57L147.83 286.74L148.04 283.28L148.24 280.24L148.45 277.68L148.66 275.64L148.86 274.16L149.07 273.26L149.28 272.96L149.51 273.30L149.74 274.29L149.97 275.94L150.19 278.19L150.42 281.03L150.65 284.40L150.88 288.24L151.11 292.49L151.34 297.07L151.57 301.91L151.79 306.92L152.02 312.01L152.25 317.11L152.48 322.12L152.71 326.96L152.94 331.54L153.17 335.79L153.39 339.63L153.62 343.00L153.85 345.83L154.08 346.27L154.31 346.27L154.54 346.27L154.77 346.27L154.95 346.27L155.13 346.27L155.31 346.27L155.50 346.27L155.68 346.27L155.86 344.86L156.05 342.78L156.23 340.48L156.41 337.99L156.59 335.37L156.78 332.65L156.96 329.89L157.14 327.12L157.33 324.41L157.51 321.78L157.69 319.30L157.87 316.99L158.06 314.91L158.24 313.08L158.42 311.55L158.61 310.32L158.79 309.43L158.97 308.89L159.16 308.71L159.37 308.81L159.58 309.12L159.79 309.63L160.00 310.33L160.21 311.20L160.42 312.25L160.63 313.43L160.84 314.75L161.05 316.16L161.26 317.66L161.47 319.21L161.68 320.78L161.89 322.36L162.10 323.91L162.31 325.40L162.52 326.82L162.73 328.13L162.94 329.32L163.15 330.36L163.36 331.24L163.57 331.94L163.78 332.45L163.99 332.76L164.20 332.86L164.40 332.80L164.60 332.63L164.81 332.34L165.01 331.94L165.21 331.45L165.41 330.86L165.61 330.19L165.81 329.44L166.01 328.64L166.21 327.80L166.42 326.92L166.62 326.03L166.82 325.14L167.02 324.26L167.22 323.42L167.42 322.62L167.62 321.87L167.82 321.20L168.02 320.61L168.23 320.12L168.43 319.72L168.63 319.43L168.83 319.26L169.03 319.20L169.24 319.23L169.46 319.32L169.67 319.46L169.88 319.65L170.10 319.90L170.31 320.18L170.52 320.51L170.74 320.88L170.95 321.27L171.16 321.69L171.38 322.12L171.59 322.56L171.80 322.99L172.02 323.42L172.23 323.84L172.44 324.23L172.66 324.60L172.87 324.93L173.08 325.22L173.30 325.46L173.51 325.66L173.72 325.80L173.94 325.88L174.15 325.91L174.36 325.89L174.58 325.84L174.79 325.74L175.00 325.62L175.22 325.45L175.43 325.26L175.65 325.05L175.86 324.81L176.07 324.55L176.29 324.28L176.50 323.99L176.71 323.71L176.93 323.42L177.14 323.14L177.35 322.86L177.57 322.60L177.78 322.36L177.99 322.15L178.21 321.96L178.42 321.80L178.63 321.67L178.85 321.58L179.06 321.52L179.27 321.50L179.47 321.51L179.67 321.54L179.87 321.58L180.06 321.64L180.26 321.71L180.46 321.80L180.66 321.90L180.86 322.01L181.06 322.12L181.25 322.25L181.45 322.38L181.65 322.51L181.85 322.64L182.05 322.77L182.24 322.89L182.44 323.01L182.64 323.12L182.84 323.22L183.04 323.31L183.23 323.38L183.43 323.44L183.63 323.48L183.83 323.51L184.03 323.51L184.23 323.51L184.42 323.49L184.62 323.47L184.82 323.43L185.02 323.39L185.22 323.34L185.41 323.28L185.61 323.22L185.81 323.14L186.01 323.07L186.21 322.99L186.40 322.92L186.60 322.84L186.80 322.76L187.00 322.69L187.20 322.62L187.40 322.55L187.59 322.49L187.79 322.44L187.99 322.40L188.19 322.36L188.39 322.34L188.58 322.32L188.78 322.32L189.00 322.32L189.21 322.33L189.42 322.34L189.64 322.36L189.85 322.38L190.06 322.40L190.28 322.43L190.49 322.46L190.70 322.49L190.92 322.53L191.13 322.57L191.34 322.60L191.56 322.64L191.77 322.68L191.98 322.71L192.20 322.75L192.41 322.78L192.62 322.81L192.84 322.83L193.05 322.85L193.26 322.87L193.48 322.88L193.69 322.89L193.90 322.89L194.63 322.74L209.81 322.58L224.99 322.42L240.17 322.27L255.35 322.11L270.53 321.95L285.71 321.79L300.89 321.64L316.07 321.48L331.25 321.32L346.43 321.17L361.61 321.01L376.79 320.85L391.97 320.69L407.15 320.54L422.33 320.38L437.51 320.22L452.68 320.07L467.86 319.91L483.04 319.75L498.22 319.59L498.22 346.27L497.86 346.27L498.07 346.10L498.28 345.59L498.50 344.74L498.71 343.58L498.92 342.12L499.14 340.38L499.35 338.40L499.56 336.21L499.78 333.85L499.99 331.36L500.20 328.78L500.42 326.15L500.63 323.52L500.84 320.94L501.06 318.45L501.27 316.09L501.48 313.90L501.70 311.92L501.91 310.18L502.12 308.72L502.34 307.56L502.55 306.71L502.76 306.20L502.98 306.02L503.18 306.12L503.37 306.40L503.57 306.85L503.77 307.49L503.97 308.28L504.17 309.22L504.36 310.29L504.56 311.48L504.76 312.75L504.96 314.10L505.16 315.50L505.36 316.93L505.55 318.35L505.75 319.75L505.95 321.10L506.15 322.38L506.35 323.56L506.54 324.63L506.74 325.57L506.94 326.37L507.14 327.00L507.34 327.46L507.53 327.73L507.73 327.83L507.92 327.77L508.10 327.61L508.28 327.35L508.46 326.99L508.65 326.53L508.83 326.00L509.01 325.38L509.20 324.70L509.38 323.97L509.56 323.19L509.74 322.39L509.93 321.57L510.11 320.76L510.29 319.96L510.48 319.18L510.66 318.45L510.84 317.77L511.02 317.15L511.21 316.61L511.39 316.16L511.57 315.80L511.76 315.53L511.94 315.37L512.12 315.32L512.34 315.35L512.55 315.44L512.76 315.59L512.98 315.80L513.19 316.05L513.40 316.36L513.62 316.71L513.83 317.09L514.04 317.51L514.26 317.95L514.47 318.40L514.68 318.87L514.90 319.33L515.11 319.78L515.32 320.22L515.54 320.64L515.75 321.03L515.96 321.37L516.18 321.68L516.39 321.94L516.60 322.14L516.82 322.29L517.03 322.38L517.24 322.41L517.44 322.39L517.64 322.34L517.84 322.24L518.04 322.12L518.23 321.96L518.43 321.77L518.63 321.55L518.83 321.31L519.03 321.05L519.22 320.78L519.42 320.50L519.62 320.21L519.82 319.92L520.02 319.64L520.21 319.36L520.41 319.11L520.61 318.87L520.81 318.65L521.01 318.46L521.21 318.30L521.40 318.17L521.60 318.08L521.80 318.02L522.00 318.00L522.20 318.01L522.39 318.04L522.59 318.09L522.79 318.15L522.99 318.23L523.19 318.32L523.38 318.43L523.58 318.54L523.78 318.67L523.98 318.80L524.18 318.94L524.38 319.08L524.57 319.22L524.77 319.36L524.97 319.49L525.17 319.62L525.37 319.74L525.56 319.84L525.76 319.94L525.96 320.02L526.16 320.08L526.36 320.12L526.55 320.15L526.75 320.16L526.94 320.16L527.12 320.14L527.30 320.11L527.48 320.08L527.67 320.04L527.85 319.98L528.03 319.93L528.22 319.86L528.40 319.79L528.58 319.72L528.76 319.64L528.95 319.56L529.13 319.48L529.31 319.41L529.50 319.33L529.68 319.26L529.86 319.20L530.04 319.14L530.23 319.09L530.41 319.04L530.59 319.01L530.78 318.98L530.96 318.97L531.14 318.96L531.29 318.96L531.45 318.97L531.60 318.98L531.75 318.98L531.90 319.00L532.06 319.01L532.21 319.03L532.36 319.05L532.51 319.07L532.67 319.09L532.82 319.11L532.97 319.13L533.12 319.15L533.28 319.17L533.43 319.19L533.58 319.21L533.73 319.23L533.89 319.25L534.04 319.26L534.19 319.28L534.34 319.29L534.50 319.29L534.65 319.30L534.80 319.30" fill="none" stroke="#77AC30" stroke-width="2.2" stroke-linejoin="round"/>
<path d="M59.52 216.90L59.52 346.27L63.69 346.27L65.52 216.90L116.80 216.90L120.02 264.34L120.75 270.90L121.48 276.73L122.21 281.92L122.94 286.53L123.68 290.63L124.41 294.27L125.14 297.51L125.87 300.39L126.60 302.95L127.33 305.23L128.06 307.25L128.80 309.05L129.53 310.65L130.26 312.07L130.99 313.33L131.72 314.46L132.45 315.46L133.19 316.34L133.92 317.13L134.65 317.83L135.38 318.46L136.11 319.01L136.84 319.51L137.57 319.94L138.31 320.33L139.04 320.68L139.77 320.99L140.50 321.26L141.23 321.51L141.96 321.72L142.70 321.92L143.43 322.09L144.16 322.24L144.89 322.37L145.62 322.49L146.35 322.60L147.08 322.70L147.82 322.78L148.55 322.85L149.28 322.92L150.01 322.98L150.74 323.03L151.47 323.08L152.21 323.12L152.94 323.17L170.20 322.99L187.47 322.81L204.73 322.63L221.99 322.45L239.26 322.28L256.52 322.10L273.79 321.92L291.05 321.74L308.32 321.56L325.58 321.38L342.84 321.20L360.11 321.02L377.37 320.85L394.64 320.67L411.90 320.49L429.17 320.31L446.43 320.13L463.69 319.95L480.96 319.77L498.22 319.59L498.22 346.27L498.95 346.27L498.95 346.27L499.00 345.63L499.05 344.81L499.10 343.83L499.16 342.73L499.23 341.53L499.31 340.29L499.39 339.01L499.48 337.74L499.57 336.50L499.68 335.34L499.79 334.27L499.91 333.34L500.03 332.50L500.17 331.72L500.32 330.98L500.48 330.29L500.64 329.62L500.82 329.00L500.99 328.39L501.17 327.82L501.35 327.26L501.53 326.72L501.71 326.19L501.88 325.67L502.05 325.17L502.23 324.69L502.40 324.24L502.57 323.81L502.74 323.40L502.92 323.01L503.10 322.63L503.28 322.26L503.47 321.91L503.66 321.56L503.87 321.22L504.08 320.88L504.29 320.54L504.51 320.21L504.74 319.88L504.97 319.57L505.21 319.26L505.45 318.96L505.69 318.68L505.94 318.41L506.20 318.16L506.46 317.93L506.73 317.72L507.00 317.52L507.28 317.36L507.56 317.21L507.85 317.08L508.14 316.97L508.44 316.88L508.74 316.81L509.05 316.74L509.36 316.69L509.68 316.65L510.00 316.62L510.33 316.59L510.66 316.57L511.00 316.55L511.34 316.56L511.69 316.57L512.04 316.60L512.40 316.64L512.76 316.69L513.13 316.74L513.50 316.80L513.88 316.86L514.27 316.92L514.65 316.98L515.05 317.05L515.44 317.11L515.83 317.18L516.23 317.25L516.62 317.33L517.02 317.42L517.43 317.50L517.84 317.59L518.27 317.67L518.72 317.76L519.18 317.84L519.66 317.93L520.17 318.00L520.70 318.08L521.26 318.16L521.84 318.24L522.45 318.32L523.06 318.40L523.69 318.47L524.33 318.55L524.96 318.62L525.60 318.69L526.24 318.75L526.87 318.81L527.48 318.87L528.12 318.91L528.79 318.96L529.48 319.00L530.19 319.03L530.90 319.06L531.60 319.09L532.27 319.11L532.90 319.13L533.49 319.15L534.00 319.17L534.45 319.19L534.80 319.20" fill="none" stroke="#0072BD" stroke-width="2.2" stroke-linejoin="round"/>
<path d="M59.52 216.90L59.52 331.90L59.52 331.90L59.89 308.58L60.25 290.42L60.62 276.28L60.98 265.26L61.35 256.69L61.71 250.00L62.08 244.80L62.45 240.75L62.81 237.59L63.18 235.14L63.54 233.22L63.91 231.73L64.27 230.57L64.64 229.67L65.01 228.96L65.37 228.41L65.74 227.99L66.10 227.65L66.47 227.40L66.83 227.19L67.20 227.04L67.57 226.91L67.93 226.82L68.08 226.96L68.18 226.93L68.32 226.89L68.47 226.83L68.65 226.77L68.84 226.70L69.04 226.63L69.25 226.57L69.46 226.52L69.67 226.48L69.88 226.46L70.08 226.46L70.27 226.48L70.44 226.52L70.56 226.56L70.67 226.61L70.76 226.66L70.85 226.73L70.96 226.81L71.09 226.92L71.25 227.05L71.46 227.21L71.72 227.41L72.05 227.64L72.47 227.92L72.95 228.23L73.48 228.57L74.06 228.93L74.69 229.32L75.36 229.74L76.08 230.20L76.84 230.68L77.64 231.20L78.49 231.76L79.37 232.36L80.29 232.99L81.25 233.67L82.26 234.40L83.33 235.20L84.46 236.05L85.65 236.95L86.87 237.88L88.12 238.84L89.40 239.82L90.70 240.81L92.00 241.80L93.30 242.78L94.60 243.75L95.88 244.69L97.19 245.65L98.57 246.66L100.01 247.70L101.47 248.76L102.94 249.83L104.40 250.88L105.82 251.89L107.19 252.86L108.48 253.77L109.67 254.60L110.75 255.33L111.68 255.95L112.47 256.46L113.14 256.87L113.71 257.20L114.20 257.46L114.60 257.65L114.94 257.79L115.23 257.89L115.48 257.96L115.70 258.00L115.92 258.03L116.13 258.07L116.36 258.11L116.58 258.18L116.75 258.28L116.89 258.39L116.99 258.50L117.07 258.58L117.13 258.63L117.18 258.62L117.22 258.54L117.27 258.37L117.32 258.09L117.38 257.69L117.46 257.15L117.55 256.48L117.63 255.73L117.71 254.88L117.79 253.94L117.87 252.91L117.95 251.79L118.04 250.58L118.12 249.29L118.22 247.91L118.32 246.44L118.43 244.89L118.55 243.25L118.69 241.41L118.86 239.28L119.03 236.92L119.22 234.42L119.42 231.82L119.61 229.21L119.80 226.64L119.99 224.19L120.15 221.93L120.30 219.91L120.43 218.21L120.53 216.90L126.46 216.90L127.33 331.90L128.06 323.75L128.80 323.42L147.27 323.23L165.74 323.04L184.21 322.84L202.68 322.65L221.15 322.46L239.62 322.27L258.10 322.08L276.57 321.89L295.04 321.70L313.51 321.51L331.98 321.32L350.45 321.12L368.92 320.93L387.39 320.74L405.87 320.55L424.34 320.36L442.81 320.17L461.28 319.98L479.75 319.79L498.22 319.59L498.66 304.59L499.32 321.36L500.42 319.57L501.15 319.56L502.83 319.55L504.51 319.53L506.20 319.51L507.88 319.50L509.56 319.48L511.24 319.46L512.93 319.44L514.61 319.43L516.29 319.41L517.97 319.39L519.66 319.37L521.34 319.36L523.02 319.34L524.70 319.32L526.39 319.30L528.07 319.29L529.75 319.27L531.43 319.25L533.12 319.23L534.80 319.22" fill="none" stroke="#A2142F" stroke-width="2.2" stroke-linejoin="round" stroke-dasharray="6.9 6.6"/>
<path d="M59.30 288.77L59.30 216.90L67.79 216.90L67.79 216.90L67.80 219.30L67.81 222.42L67.83 226.13L67.85 230.30L67.86 234.80L67.89 239.51L67.91 244.29L67.94 249.02L67.97 253.57L68.00 257.80L68.04 261.59L68.08 264.82L68.12 267.54L68.17 269.94L68.21 272.06L68.26 273.96L68.32 275.67L68.37 277.25L68.43 278.73L68.50 280.17L68.57 281.61L68.64 283.09L68.72 284.67L68.81 286.38L68.91 288.21L69.02 290.11L69.13 292.04L69.26 293.99L69.39 295.95L69.52 297.88L69.65 299.77L69.79 301.61L69.92 303.36L70.04 305.01L70.16 306.55L70.27 307.94L70.38 309.20L70.47 310.34L70.56 311.38L70.65 312.33L70.74 313.19L70.82 313.99L70.91 314.73L70.99 315.43L71.08 316.09L71.17 316.74L71.27 317.37L71.37 318.00L71.48 318.63L71.59 319.21L71.70 319.77L71.82 320.29L71.94 320.77L72.06 321.23L72.18 321.65L72.31 322.04L72.43 322.39L72.56 322.72L72.70 323.01L72.83 323.27L72.98 323.49L73.14 323.66L73.31 323.78L73.48 323.86L73.66 323.91L73.84 323.94L74.01 323.95L74.17 323.94L74.33 323.93L74.46 323.93L74.57 323.93L74.66 323.95L75.39 323.97L96.54 323.75L117.68 323.53L138.82 323.31L159.96 323.10L181.10 322.88L202.24 322.66L223.38 322.44L244.53 322.22L265.67 322.00L286.81 321.78L307.95 321.56L329.09 321.35L350.23 321.13L371.37 320.91L392.52 320.69L413.66 320.47L434.80 320.25L455.94 320.03L477.08 319.81L498.22 319.59" fill="none" stroke="#FF0000" stroke-width="2.2" stroke-linejoin="round" stroke-dasharray="8.4 1.8 2 1.8"/>
<path d="M498.59 319.59L498.59 331.90L498.95 313.21L499.39 330.94L499.76 314.17L500.20 324.71L500.78 317.52L501.51 319.56" fill="none" stroke="#FF0000" stroke-width="1.8" stroke-linejoin="round"/>
<path d="M501.15 319.56L502.83 319.55L504.51 319.53L506.20 319.51L507.88 319.50L509.56 319.48L511.24 319.46L512.93 319.44L514.61 319.43L516.29 319.41L517.97 319.39L519.66 319.37L521.34 319.36L523.02 319.34L524.70 319.32L526.39 319.30L528.07 319.29L529.75 319.27L531.43 319.25L533.12 319.23L534.80 319.22" fill="none" stroke="#FF0000" stroke-width="2.2" stroke-linejoin="round" stroke-dasharray="8.4 1.8 2 1.8"/>
<path d="M498.95 314.65L498.95 304.59" fill="none" stroke="#A2142F" stroke-width="1.6" stroke-linejoin="round"/>
</g>
<text x="59.40" y="355.40" text-anchor="middle">0</text>
<text x="132.55" y="355.40" text-anchor="middle">10</text>
<text x="205.71" y="355.40" text-anchor="middle">20</text>
<text x="278.86" y="355.40" text-anchor="middle">30</text>
<text x="352.02" y="355.40" text-anchor="middle">40</text>
<text x="425.17" y="355.40" text-anchor="middle">50</text>
<text x="498.32" y="355.40" text-anchor="middle">60</text>
<text x="52.30" y="338.00" text-anchor="end">0</text>
<text x="52.30" y="290.08" text-anchor="end">10</text>
<text x="52.30" y="242.17" text-anchor="end">20</text>
<rect x="172.50" y="219.60" width="360.50" height="38.80" fill="#fff" stroke="#262626" stroke-width="1"/>
<line x1="177.00" y1="230.20" x2="219.60" y2="230.20" stroke="#FF1398" stroke-width="2.2"/>
<text x="224.00" y="232.50" font-size="10.3px">u<tspan font-size="8.6px" dx="0.3" dy="3.8">2</tspan><tspan dy="-3.8" dx="0.4">-LADRC</tspan></text>
<line x1="177.00" y1="248.80" x2="219.60" y2="248.80" stroke="#77AC30" stroke-width="2.2"/>
<text x="224.00" y="251.10" font-size="10.3px">u<tspan font-size="8.6px" dx="0.3" dy="3.8">2</tspan><tspan dy="-3.8" dx="0.4">-ADRC</tspan></text>
<line x1="282.00" y1="230.20" x2="325.70" y2="230.20" stroke="#0072BD" stroke-width="2.2"/>
<text x="329.60" y="232.50" font-size="10.3px">u<tspan font-size="8.6px" dx="0.3" dy="3.8">2</tspan><tspan dy="-3.8" dx="0.4">-IADRC</tspan></text>
<line x1="282.00" y1="248.80" x2="325.70" y2="248.80" stroke="#A2142F" stroke-width="2.2" stroke-dasharray="6.9 6.6"/>
<text x="329.60" y="251.10" font-size="10.3px">u<tspan font-size="8.6px" dx="0.3" dy="3.8">2</tspan><tspan dy="-3.8" dx="0.4">-NLPD-ADRC</tspan></text>
<line x1="413.00" y1="230.20" x2="456.50" y2="230.20" stroke="#FF0000" stroke-width="2.2" stroke-dasharray="8.4 1.8 2 1.8"/>
<text x="461.00" y="232.50" font-size="10.3px">u<tspan font-size="8.6px" dx="0.3" dy="3.8">2</tspan><tspan dy="-3.8" dx="0.4">-STC-ADRC</tspan></text>
<text x="297.6" y="377.2" text-anchor="middle" font-size="16.3px">t(s)</text>
<text x="297.6" y="399.6" text-anchor="middle" font-size="16.3px">(b)</text>
<text transform="translate(19.2 274.6) rotate(-90)" text-anchor="middle" font-size="16.3px">u<tspan font-size="12.3px" dy="6.5" dx="0.2">2</tspan><tspan dy="-6.5">(volt)</tspan></text>
</svg>
</body></html>
